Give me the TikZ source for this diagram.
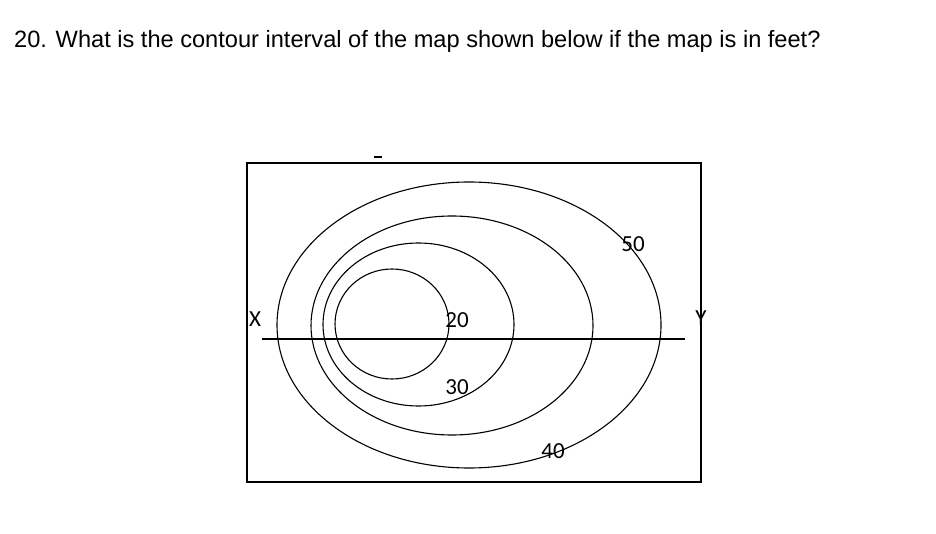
\documentclass[tikz,border=0pt]{standalone}
\usepackage{fontspec}
\setmainfont{Liberation Sans}
\newfontfamily\lblfont{Carlito}
\begin{document}
\begin{tikzpicture}[x=1pt,y=-1pt,
  contour/.style={draw=black,line width=1.1pt},
  lbl/.style={font=\lblfont\fontsize{23}{23}\selectfont,inner sep=0pt,fill=none}]
\useasboundingbox (0,0) rectangle (936,534);
\node[anchor=base west,inner sep=0pt,font=\fontsize{23.6}{25}\selectfont] (title) at (14,48) {20. What is the contour interval of the map shown below if the map is in feet?};
\draw[line width=1.1pt] (247,163) rectangle (701,482);
\draw[line width=1.1pt] (374,157) -- (382,157);
\draw[contour] (469,325) ellipse (192 and 143);
\draw[contour] (452,325.5) ellipse (141 and 109.5);
\draw[contour] (418.5,324.5) ellipse (95.5 and 81.5);
\draw[contour] (392,324) ellipse (57 and 55);
\coordinate (l) at (262,339);
\coordinate (r) at (685,339);
\draw[line width=1.1pt] (l) -- (r);
\node[lbl] (X) at (255,319) {X};
\node[lbl] (Y) at (701,318) {Y};
\node[lbl] (t20) at (457,320) {20};
\node[lbl] (t30) at (457,387) {30};
\node[lbl] (t40) at (553,451) {40};
\node[lbl] (t50) at (633,244) {50};
\end{tikzpicture}
\end{document}
